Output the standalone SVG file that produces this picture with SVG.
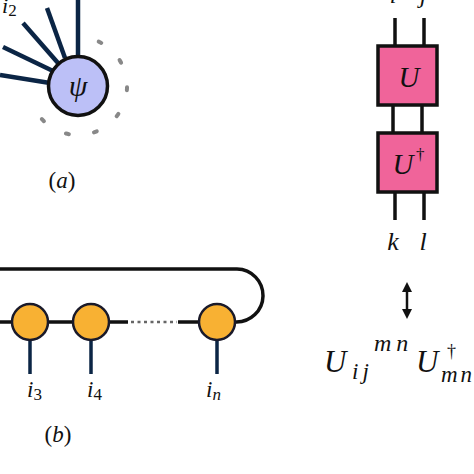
<svg xmlns="http://www.w3.org/2000/svg" width="474" height="474" viewBox="0 0 474 474">
<defs>
<marker id="ah" viewBox="0 0 10 10" refX="5" refY="5" markerWidth="4" markerHeight="4" orient="auto-start-reverse">
<path d="M0,0 L10,5 L0,10 Z" fill="#111"/>
</marker>
</defs>
<rect width="474" height="474" fill="#fff"/>

<g id="connectors" fill="none">
<g stroke="#0b2545" stroke-width="4.5">
<line x1="78" y1="0" x2="78" y2="58"/>
<line x1="47" y1="8" x2="65" y2="58"/>
<line x1="23" y1="23" x2="58" y2="63"/>
<line x1="3" y1="47" x2="53" y2="71"/>
<line x1="0" y1="75" x2="50" y2="83"/>
</g>
<path d="M 98.7 41.6 A 49 49 0 1 1 30.5 97.9" stroke="#888" stroke-width="4" stroke-linecap="round" stroke-dasharray="3 25.3"/>
<g stroke="#111" stroke-width="3.5">
<path d="M0 269 H237 A26.5 26.5 0 0 1 236 322"/>
<line x1="0" y1="322" x2="12" y2="322"/>
<line x1="48" y1="322" x2="73" y2="322"/>
<line x1="109" y1="322" x2="128" y2="322"/>
<line x1="178" y1="322" x2="199" y2="322"/>
<line x1="395" y1="18" x2="395" y2="47"/>
<line x1="424" y1="18" x2="424" y2="47"/>
<line x1="393" y1="104" x2="393" y2="134"/>
<line x1="422" y1="104" x2="422" y2="134"/>
<line x1="395" y1="192" x2="395" y2="220"/>
<line x1="424" y1="192" x2="424" y2="220"/>
</g>
<line x1="131" y1="322" x2="177" y2="322" stroke="#666" stroke-width="2.5" stroke-dasharray="3 3.5"/>
<g stroke="#0b2545" stroke-width="3.5">
<line x1="30" y1="340" x2="30" y2="374"/>
<line x1="91" y1="340" x2="91" y2="374"/>
<line x1="217" y1="340" x2="217" y2="374"/>
</g>
<line x1="407" y1="287" x2="407" y2="314" stroke="#111" stroke-width="2.5" marker-start="url(#ah)" marker-end="url(#ah)"/>
</g>

<g font-family="Liberation Serif" fill="#111">
<g id="psi">
<circle cx="78" cy="86" r="29.5" fill="#bcc0f7" stroke="#111" stroke-width="3.5"/>
<text x="78" y="96" font-size="30" font-style="italic" text-anchor="middle">ψ</text>
</g>
<g id="label-i2"><text x="2" y="13" font-size="22" font-style="italic">i<tspan font-style="normal" font-size="17" dy="3">2</tspan></text></g>
<g id="label-a"><text x="62" y="188" font-size="23" text-anchor="middle">(<tspan font-style="italic">a</tspan>)</text></g>

<g id="node-U">
<rect x="378" y="46" width="59" height="59" fill="#f0649a" stroke="#111" stroke-width="3.5"/>
<text x="409" y="87" font-size="29" font-style="italic" text-anchor="middle">U</text>
</g>
<g id="node-Udag">
<rect x="378" y="133" width="59" height="59" fill="#f0649a" stroke="#111" stroke-width="3.5"/>
<text x="403" y="174" font-size="29" font-style="italic" text-anchor="middle">U</text>
<text x="416" y="160" font-size="17">†</text>
</g>
<g id="labels-right" font-style="italic">
<text x="393" y="3" font-size="24" text-anchor="middle">i</text>
<text x="423" y="3" font-size="24" text-anchor="middle">j</text>
<text x="393" y="250" font-size="26" text-anchor="middle">k</text>
<text x="423" y="250" font-size="26" text-anchor="middle">l</text>
</g>
<g id="formula" font-style="italic">
<text x="324" y="372" font-size="31">U</text>
<text x="352" y="379" font-size="23" letter-spacing="4">ij</text>
<text x="374" y="351" font-size="24" letter-spacing="5">mn</text>
<text x="416" y="372" font-size="31">U</text>
<text x="447" y="357" font-size="18" font-style="normal">†</text>
<text x="441" y="382" font-size="23" letter-spacing="3">mn</text>
</g>

<g id="node-1"><circle cx="30" cy="322" r="18" fill="#f8b133" stroke="#1a1a2a" stroke-width="2.5"/></g>
<g id="node-2"><circle cx="91" cy="322" r="18" fill="#f8b133" stroke="#1a1a2a" stroke-width="2.5"/></g>
<g id="node-n"><circle cx="217" cy="322" r="18" fill="#f8b133" stroke="#1a1a2a" stroke-width="2.5"/></g>
<g id="labels-b">
<text x="27" y="397" font-size="23" font-style="italic">i<tspan font-style="normal" font-size="17" dy="3">3</tspan></text>
<text x="87" y="397" font-size="23" font-style="italic">i<tspan font-style="normal" font-size="17" dy="3">4</tspan></text>
<text x="206" y="397" font-size="23" font-style="italic">i<tspan font-size="17" dy="3">n</tspan></text>
<text x="58" y="442" font-size="23" text-anchor="middle">(<tspan font-style="italic">b</tspan>)</text>
</g>
</g>
</svg>
